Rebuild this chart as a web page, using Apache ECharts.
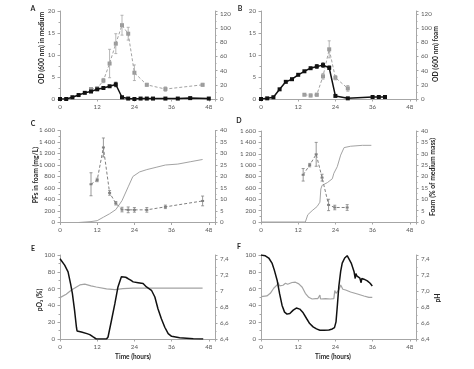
<!DOCTYPE html>
<html><head><meta charset="utf-8">
<script src="https://cdn.jsdelivr.net/npm/echarts@6/dist/echarts.min.js"></script>
<style>html,body{margin:0;padding:0;background:#fff}#c{width:474px;height:369px}</style>
</head><body><div id="c"></div>
<script>
// ---------- Panel A ----------
const aHours = [0,2,4,6,8,10,12,14,16,18,20,22,24,26,28,30,34,38,42,48];
const aMedium = [0,0,0.4,0.9,1.4,1.7,2.2,2.5,2.9,3.3,0.4,0.1,0,0.1,0.1,0.1,0.1,0.1,0.2,0.1];
const aMediumErr = [0,0,0,0,0,0,0,0,0,0.5,0,0,0,0,0,0,0,0,0,0];
const aFoamHours = [10,12,14,16,18,20,22,24,28,34,46];
const aFoam = [14,15,26,50,78,104,92,37,20,14,20];
const aFoamErr = [2,2,3,20,14,14,9,11,2,3,2];
// ---------- Panel B ----------
const bHours = [0,2,4,6,8,10,12,14,16,18,20,22,24,28,36,38,40];
const bMedium = [0,0.15,0.4,2.2,3.9,4.5,5.5,6.3,7.0,7.4,7.7,7.1,0.7,0.15,0.45,0.45,0.45];
const bMediumErr = [0,0,0,0,0,0,0,0,0,0.4,0.5,0.4,0,0,0,0,0];
const bFoamHours = [14,16,18,20,22,24,28];
const bFoam = [6,5,6,32,70,30,15];
const bFoamErr = [1,2,2,4,12,3,4];
// ---------- Panel C ----------
const cPfsHours = [10,12,14,16,18,20,22,24,28,34,46];
const cPfs = [665,740,1305,515,335,225,220,220,220,272,375];
const cPfsErr = [200,30,165,40,30,40,50,40,40,30,85];
const cFoamHours = [6,10,12,14,16,18,20,22,23.5,25.7,28,31,34,38,42,46];
const cFoam = [0,0.4,0.8,2.3,3.8,5.6,9.5,15.5,20,22,23,24,25,25.4,26.4,27.4];
// ---------- Panel D ----------
const dPfsHours = [13.6,15.7,17.8,19.7,21.8,23.8,27.8];
const dPfs = [830,1000,1190,780,300,255,255];
const dPfsErr = [110,30,210,60,100,40,50];
const dFoamHours = [0,14.3,15.1,16.5,18.1,19,19.3,19.7,21.4,23,23.5,24.6,25.7,26.8,28.9,32.7,35.6];
const dFoam = [0,0,3.2,5,6.8,8.7,14.5,16.1,17.3,19,21.4,24.3,29.4,32.7,33.3,33.7,33.7];
// ---------- Panel E ----------
const eHours = [0,1.5,2.6,3.4,4,4.7,5.3,5.5,6.9,8.7,9.6,10.7,11.7,15,15.5,16.6,17.7,18.7,19.8,20.3,21.2,21.9,22.8,23.6,25.2,26.8,27.9,29.5,30.6,31.6,32.7,33.8,34.9,36,38.6,43,46.2];
const ePO2 = [95.6,88,80,66,54,34,14,9.6,8.4,6.4,5.2,2.4,0,0,2.4,22,42,62,74,72,73.5,72,70,68,67,66,62,58,50,36,24,14,6.4,3.2,1.6,0.4,0];
const ePhHours = [0,2,3.7,6.4,8,10,11.7,15,17.7,20.3,23.6,29,46];
const ePh = [6.917,6.96,7.013,7.076,7.085,7.065,7.05,7.026,7.018,7.03,7.035,7.035,7.035];
// ---------- Panel F ----------
const fHours = [0,1.4,2.5,3.6,4.3,5.2,6,6.8,7.6,8.4,9.3,10.4,11.4,12.5,13.6,14.7,15.7,16.8,17.9,19,20.3,21.9,23,23.7,24.2,24.6,25.1,25.7,26.2,27,27.8,28.4,29.1,30,30.4,30.6,30.9,31.9,32.3,32.5,33.2,34.3,35.2,35.9];
const fPO2 = [100,99,96.4,90,82,70,54,40,32,29.6,30.4,34.4,36.8,35.6,31.2,24.4,18.4,14.4,12,10.4,10.4,10.8,12,13.6,20.4,38.4,62.4,80.4,90.4,96.4,99.2,97.6,90.4,80.4,72,78,75.2,72.4,67,72,71.2,69.2,66.4,63.2];
const fPhHours = [0,1.9,3,4.1,5.2,5.5,6,7.1,7.9,8.6,10,11.1,12.2,13.3,14.3,15.4,16.5,17.6,18.3,19,19.2,20.8,22.4,23.5,23.8,24.2,24.6,25.1,25.7,26,26.4,27.3,28.9,31.1,33.2,34.8,35.9];
const fPh = [6.929,6.938,6.971,7.034,7.076,7.106,7.064,7.072,7.097,7.085,7.106,7.11,7.089,7.047,6.971,6.921,6.9,6.904,6.904,6.95,6.9,6.904,6.9,6.904,7.005,6.971,6.98,7.013,7.076,7.097,7.022,7.013,6.988,6.963,6.938,6.921,6.921];
// ---------- Axis ticks ----------
const xTicks = [0,12,24,36,48];
const odMediumTicks = [0,5,10,15,20];
const odFoamTicks = [0,20,40,60,80,100,120];
const pfsTicks = [0,200,400,600,800,1000,1200,1400,1600];
const foamPctTicks = [0,5,10,15,20,25,30,35,40];
const po2Ticks = [0,20,40,60,80,100];
const phTicksE = ['6,4','6,6','6,8','7','7,2','7,4'];
const phTicksF = ['6,4','6,6','6,8','7,0','7,2','7,4'];

const zip = (xs, ys) => xs.map((x, i) => [x, ys[i]]);
const zip3 = (xs, ys, es) => xs.map((x, i) => [x, ys[i], es[i]]).filter(d => d[2] > 0);

const FONT = 'Lato';
const labelColor = '#595959';
const axisColor = '#a6a6a6';

const grids = [
  {left: 60, top: 11, width: 155, height: 88},
  {left: 261, top: 11, width: 155, height: 88},
  {left: 60, top: 130.5, width: 155, height: 92},
  {left: 261, top: 131, width: 155, height: 91},
  {left: 60, top: 255, width: 155, height: 84},
  {left: 261, top: 255, width: 155, height: 84}
];

const xAxes = grids.map((g, i) => ({
  type: 'value', gridIndex: i, min: 0, max: 50, interval: 12,
  axisLine: {show: true, lineStyle: {color: axisColor, width: 1}},
  axisTick: {show: true, length: 2.5, lineStyle: {color: axisColor}},
  splitLine: {show: false},
  axisLabel: {fontFamily: FONT, fontSize: 6.2, color: labelColor, margin: 5,
    formatter: v => xTicks.includes(v) ? String(v) : ''}
}));

function yAx(grid, pos, min, max, interval, fmt) {
  return {
    type: 'value', gridIndex: grid, position: pos, min: min, max: max, interval: interval,
    axisLine: {show: true, lineStyle: {color: axisColor, width: 1}},
    axisTick: {show: true, length: 2.5, lineStyle: {color: axisColor}},
    minorTick: {show: true, splitNumber: 2, length: 1.5, lineStyle: {color: axisColor}},
    splitLine: {show: false},
    axisLabel: {fontFamily: FONT, fontSize: 6.2, color: labelColor, margin: 5, formatter: fmt}
  };
}
const inList = list => v => { const r = Math.round(v * 1000) / 1000; return list.includes(r) ? String(r) : ''; };
const spaced = v => { const r = Math.round(v); if (!pfsTicks.includes(r)) return ''; return r >= 1000 ? Math.floor(r/1000) + ' ' + String(r % 1000).padStart(3, '0') : String(r); };
const phFmt = list => v => { const k = Math.round((v - 6.4) / 0.2 * 1000) / 1000; if (Math.abs(k - Math.round(k)) > 1e-3) return ''; return list[Math.round(k)] || ''; };

const yAxes = [
  yAx(0, 'left', 0, 20, 5, inList(odMediumTicks)),
  yAx(0, 'right', 0, 124, 20, inList(odFoamTicks)),
  yAx(1, 'left', 0, 20, 5, inList(odMediumTicks)),
  yAx(1, 'right', 0, 124, 20, inList(odFoamTicks)),
  yAx(2, 'left', 0, 1600, 200, spaced),
  yAx(2, 'right', 0, 40, 5, inList(foamPctTicks)),
  yAx(3, 'left', 0, 1600, 200, spaced),
  yAx(3, 'right', 0, 40, 5, inList(foamPctTicks)),
  yAx(4, 'left', 0, 100, 20, inList(po2Ticks)),
  yAx(4, 'right', 6.4, 7.45, 0.2, phFmt(phTicksE)),
  yAx(5, 'left', 0, 100, 20, inList(po2Ticks)),
  yAx(5, 'right', 6.4, 7.45, 0.2, phFmt(phTicksF))
];

function errSeries(xi, yi, data, color) {
  return {
    type: 'custom', xAxisIndex: xi, yAxisIndex: yi, data: data, z: 3,
    encode: {x: 0, y: 1},
    renderItem: (params, api) => {
      const x = api.value(0), y = api.value(1), e = api.value(2);
      const hi = api.coord([x, y + e]), lo = api.coord([x, y - e]);
      const w = 1.5;
      const st = {stroke: color, lineWidth: 0.8};
      return {type: 'group', children: [
        {type: 'line', shape: {x1: hi[0], y1: hi[1], x2: lo[0], y2: lo[1]}, style: st},
        {type: 'line', shape: {x1: hi[0] - w, y1: hi[1], x2: hi[0] + w, y2: hi[1]}, style: st},
        {type: 'line', shape: {x1: lo[0] - w, y1: lo[1], x2: lo[0] + w, y2: lo[1]}, style: st}
      ]};
    }
  };
}
function lineS(xi, yi, data, opt) {
  return {
    type: 'line', xAxisIndex: xi, yAxisIndex: yi, data: data, animation: false,
    showSymbol: !!opt.symbol, symbol: opt.symbol || 'none', symbolSize: opt.symbolSize || 4,
    itemStyle: {color: opt.markerColor || opt.color},
    lineStyle: {color: opt.color, width: opt.width || 1, type: opt.dash ? [3, 2] : 'solid'},
    smooth: false, z: opt.z || 2
  };
}

const black = '#111111', gray = '#a3a3a3', grayDark = '#808080';

const series = [
  // A
  lineS(0, 1, zip(aFoamHours, aFoam), {color: gray, dash: true, symbol: 'rect', symbolSize: 4, markerColor: '#9a9a9a'}),
  errSeries(0, 1, zip3(aFoamHours, aFoam, aFoamErr), gray),
  lineS(0, 0, zip(aHours, aMedium), {color: black, width: 1.5, symbol: 'rect', symbolSize: 4, z: 4}),
  errSeries(0, 0, zip3(aHours, aMedium, aMediumErr), black),
  // B
  lineS(1, 3, zip(bFoamHours, bFoam), {color: gray, dash: true, symbol: 'rect', symbolSize: 4, markerColor: '#9a9a9a'}),
  errSeries(1, 3, zip3(bFoamHours, bFoam, bFoamErr), gray),
  lineS(1, 2, zip(bHours, bMedium), {color: black, width: 1.5, symbol: 'rect', symbolSize: 4, z: 4}),
  errSeries(1, 2, zip3(bHours, bMedium, bMediumErr), black),
  // C
  lineS(2, 5, zip(cFoamHours, cFoam), {color: gray, width: 1}),
  lineS(2, 4, zip(cPfsHours, cPfs), {color: grayDark, dash: true, symbol: 'rect', symbolSize: [3, 2]}),
  errSeries(2, 4, zip3(cPfsHours, cPfs, cPfsErr), grayDark),
  // D
  lineS(3, 7, zip(dFoamHours, dFoam), {color: gray, width: 1}),
  lineS(3, 6, zip(dPfsHours, dPfs), {color: grayDark, dash: true, symbol: 'rect', symbolSize: [3, 2]}),
  errSeries(3, 6, zip3(dPfsHours, dPfs, dPfsErr), grayDark),
  // E
  lineS(4, 9, zip(ePhHours, ePh), {color: gray, width: 1.2}),
  lineS(4, 8, zip(eHours, ePO2), {color: black, width: 1.5, z: 4}),
  // F
  lineS(5, 11, zip(fPhHours, fPh), {color: gray, width: 1.2}),
  lineS(5, 10, zip(fHours, fPO2), {color: black, width: 1.5, z: 4})
];

function txt(t, x, y, opts) {
  return {type: 'text', x: x, y: y, rotation: opts.rot ? Math.PI / 2 : 0, z: 10,
    style: {text: t, fill: opts.color || '#262626', font: (opts.bold ? 'bold ' : '') + (opts.size || 6.8) + 'px ' + FONT,
      textAlign: 'center', textVerticalAlign: 'middle'}};
}
const graphics = [
  txt('A', 33, 9, {bold: true, size: 7}),
  txt('B', 240, 9, {bold: true, size: 7}),
  txt('C', 33, 124, {bold: true, size: 7}),
  txt('D', 239, 121, {bold: true, size: 7}),
  txt('E', 33, 249, {bold: true, size: 7}),
  txt('F', 239, 247, {bold: true, size: 7}),
  txt('OD (600 nm) in medium', 41.5, 48, {bold: true, rot: true}),
  txt('OD (600 nm) foam', 436, 54, {bold: true, rot: true}),
  txt('PFs in foam (mg/L)', 36, 175, {bold: true, rot: true}),
  txt('Foam (% of medium mass)', 433, 177, {bold: true, rot: true}),
  txt('pO₂ (%)', 39.5, 300, {bold: true, rot: true}),
  txt('pH', 438, 298, {bold: true, rot: true}),
  txt('Time (hours)', 133, 357, {bold: true, size: 6.5}),
  txt('Time (hours)', 333, 357, {bold: true, size: 6.5})
];

const chart = echarts.init(document.getElementById('c'), null, {renderer: 'canvas'});
chart.setOption({
  animation: false,
  backgroundColor: '#ffffff',
  grid: grids,
  xAxis: xAxes,
  yAxis: yAxes,
  series: series,
  graphic: graphics
});
</script></body></html>
